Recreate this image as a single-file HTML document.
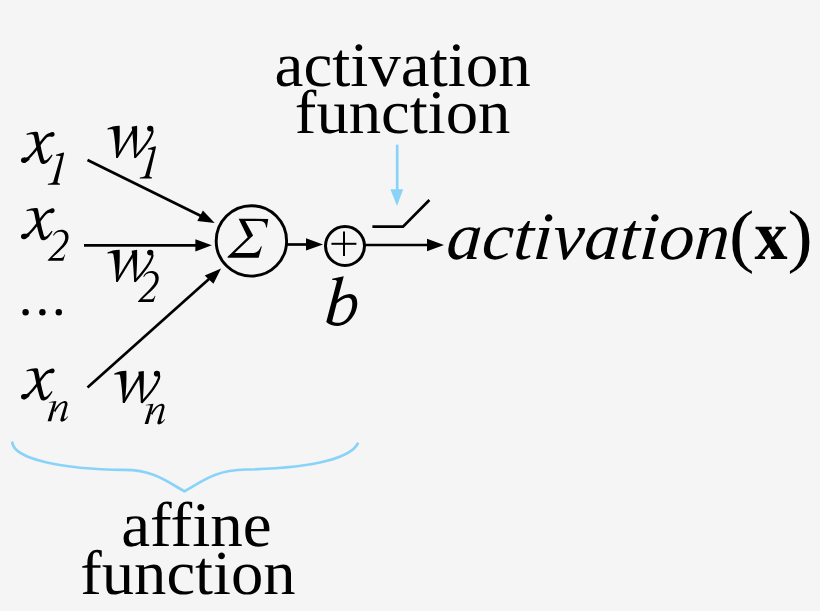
<!DOCTYPE html>
<html>
<head>
<meta charset="utf-8">
<style>
html,body{margin:0;padding:0;background:#f5f5f5;width:820px;height:611px;overflow:hidden}
svg{display:block}
text{font-family:"Liberation Serif",serif;font-variant-ligatures:none;text-rendering:geometricPrecision}
svg g.t{opacity:0.999}
</style>
</head>
<body>
<svg width="820" height="611" viewBox="0 0 820 611">
<rect width="820" height="611" fill="#f5f5f5"/>
<g fill="#000">
<circle cx="25.6" cy="312.2" r="3.2"/>
<circle cx="42.4" cy="312.2" r="3.2"/>
<circle cx="58.8" cy="312.2" r="3.2"/>
</g>
<g stroke="#000" fill="none" stroke-width="2.7">
<line x1="87.5" y1="160" x2="201" y2="216"/>
<line x1="84" y1="245.3" x2="197" y2="245.3"/>
<line x1="87.5" y1="387.5" x2="209" y2="279"/>
<circle cx="251.4" cy="240.9" r="35.2" stroke-width="2.9"/>
<line x1="287" y1="244.5" x2="308" y2="244.5"/>
<circle cx="345" cy="246" r="19.5" stroke-width="3"/>
<line x1="331.4" y1="243.8" x2="356.4" y2="243.8" stroke-width="2"/>
<line x1="344" y1="231.4" x2="344" y2="256" stroke-width="2"/>
<line x1="365" y1="245" x2="429" y2="245"/>
<polyline points="372.4,226.6 403,226.6 429.4,200"/>
</g>
<g fill="#000">
<polygon points="214.7,222.9 197.3,221 202.9,210.5"/>
<polygon points="211.8,245.3 195.4,239.2 195.4,251.4"/>
<polygon points="221.1,268.4 204.7,275.4 213.4,283.8"/>
<polygon points="323,244.5 306,238.3 306,250.5"/>
<polygon points="444,245 427,238.8 427,251.2"/>
</g>
<g stroke="#8ad3f8" fill="none" stroke-width="2.7">
<line x1="397.2" y1="144.7" x2="397.2" y2="190"/>
<path d="M12.3,442.7 C14.43,458.51 59.64,469.2 124.4,469.9 C153.56,469.76 167.99,482.25 184.4,491.3 C200.8,482.25 215.2,469.76 245.6,469.5 C319.82,468.15 351.18,456.32 357.7,443.6" stroke-linecap="round"/>
</g>
<polygon points="390.4,189.2 403.2,189.2 397,206" fill="#8ad3f8"/>

<g class="t" fill="#000">
<text transform="matrix(0.64997 0 0.00000 0.63125 274.53 86.17)" font-size="100">activation</text>
<text transform="matrix(0.64700 0 0.00000 0.61958 294.86 133.18)" font-size="100">function</text>
<text transform="matrix(0.65033 0 0.00000 0.63357 121.22 545.87)" font-size="100">affine</text>
<text transform="matrix(0.64639 0 0.00000 0.62657 80.26 594.37)" font-size="100">function</text>
<text transform="matrix(0.70801 0 -0.04720 0.67500 445.57 259.43)" font-size="100" style="font-style:italic">activation</text>
<text transform="matrix(0.76078 0 0.00000 0.70387 729.08 259.24)" font-size="100">(</text>
<text transform="matrix(0.66122 0 0.00000 0.70217 754.47 259.30)" font-size="100" style="font-weight:bold">x</text>
<text transform="matrix(0.75728 0 0.00000 0.70387 787.54 259.24)" font-size="100">)</text>
</g>
<g fill="#000">
<g transform="translate(18,128) scale(0.065466)">
<path d="M130,86 C180,72 230,58 268,58 C290,58 300,62 305,70 C320,150 350,300 380,420 C392,470 400,495 410,497 C440,490 485,445 515,403 L528,415 C500,462 460,530 410,546 C385,553 363,550 350,535 C333,510 318,440 298,370 C283,310 266,230 253,160 C246,125 240,102 223,98 C195,93 160,99 134,106 Z"/>
<path d="M100,495 C170,465 220,400 280,320 C340,240 400,140 460,105 C480,95 495,92 510,92" fill="none" stroke="#000" stroke-width="36"/>
<ellipse cx="90" cy="493" rx="44" ry="42"/>
<path d="M90,451 C120,452 145,452 168,447 L178,482 C150,505 120,530 90,535 Z"/>
<path d="M440,128 C470,82 500,58 530,60 C555,62 563,85 558,108 C552,134 525,140 500,132 C480,126 462,130 445,140 Z"/>
</g>
<g transform="translate(18,204.3) scale(0.065466)">
<path d="M130,86 C180,72 230,58 268,58 C290,58 300,62 305,70 C320,150 350,300 380,420 C392,470 400,495 410,497 C440,490 485,445 515,403 L528,415 C500,462 460,530 410,546 C385,553 363,550 350,535 C333,510 318,440 298,370 C283,310 266,230 253,160 C246,125 240,102 223,98 C195,93 160,99 134,106 Z"/>
<path d="M100,495 C170,465 220,400 280,320 C340,240 400,140 460,105 C480,95 495,92 510,92" fill="none" stroke="#000" stroke-width="36"/>
<ellipse cx="90" cy="493" rx="44" ry="42"/>
<path d="M90,451 C120,452 145,452 168,447 L178,482 C150,505 120,530 90,535 Z"/>
<path d="M440,128 C470,82 500,58 530,60 C555,62 563,85 558,108 C552,134 525,140 500,132 C480,126 462,130 445,140 Z"/>
</g>
<g transform="translate(18,364.5) scale(0.065466)">
<path d="M130,86 C180,72 230,58 268,58 C290,58 300,62 305,70 C320,150 350,300 380,420 C392,470 400,495 410,497 C440,490 485,445 515,403 L528,415 C500,462 460,530 410,546 C385,553 363,550 350,535 C333,510 318,440 298,370 C283,310 266,230 253,160 C246,125 240,102 223,98 C195,93 160,99 134,106 Z"/>
<path d="M100,495 C170,465 220,400 280,320 C340,240 400,140 460,105 C480,95 495,92 510,92" fill="none" stroke="#000" stroke-width="36"/>
<ellipse cx="90" cy="493" rx="44" ry="42"/>
<path d="M90,451 C120,452 145,452 168,447 L178,482 C150,505 120,530 90,535 Z"/>
<path d="M440,128 C470,82 500,58 530,60 C555,62 563,85 558,108 C552,134 525,140 500,132 C480,126 462,130 445,140 Z"/>
</g>
<g transform="translate(104,122) scale(0.065854)">
<path d="M55,96 C100,76 160,58 238,56 C242,200 238,380 210,545 L184,545 C178,400 165,250 140,116 C115,108 85,110 55,116 Z"/>
<path d="M196,535 L474,80" fill="none" stroke="#000" stroke-width="35"/>
<path d="M420,72 L503,58 C505,250 497,400 485,545 L458,545 C452,400 442,250 420,72 Z"/>
<path d="M468,540 C580,420 690,290 728,178 C742,138 735,112 708,102" fill="none" stroke="#000" stroke-width="35"/>
<ellipse cx="702" cy="100" rx="47" ry="43"/>
</g>
<g transform="translate(104,246) scale(0.065854)">
<path d="M55,96 C100,76 160,58 238,56 C242,200 238,380 210,545 L184,545 C178,400 165,250 140,116 C115,108 85,110 55,116 Z"/>
<path d="M196,535 L474,80" fill="none" stroke="#000" stroke-width="35"/>
<path d="M420,72 L503,58 C505,250 497,400 485,545 L458,545 C452,400 442,250 420,72 Z"/>
<path d="M468,540 C580,420 690,290 728,178 C742,138 735,112 708,102" fill="none" stroke="#000" stroke-width="35"/>
<ellipse cx="702" cy="100" rx="47" ry="43"/>
</g>
<g transform="translate(110.7,367.1) scale(0.065854)">
<path d="M55,96 C100,76 160,58 238,56 C242,200 238,380 210,545 L184,545 C178,400 165,250 140,116 C115,108 85,110 55,116 Z"/>
<path d="M196,535 L474,80" fill="none" stroke="#000" stroke-width="35"/>
<path d="M420,72 L503,58 C505,250 497,400 485,545 L458,545 C452,400 442,250 420,72 Z"/>
<path d="M468,540 C580,420 690,290 728,178 C742,138 735,112 708,102" fill="none" stroke="#000" stroke-width="35"/>
<ellipse cx="702" cy="100" rx="47" ry="43"/>
</g>
<g transform="translate(44,148) scale(0.065402)"><path d="M183,104 L296,70 L308,76 L205,525 C212,538 228,543 245,545 L243,562 L58,562 L60,548 C95,545 122,538 140,525 L255,128 C240,118 212,116 190,122 Z"/></g>
<g transform="translate(135.9,141.7) scale(0.065402)"><path d="M183,104 L296,70 L308,76 L205,525 C212,538 228,543 245,545 L243,562 L58,562 L60,548 C95,545 122,538 140,525 L255,128 C240,118 212,116 190,122 Z"/></g>
<g transform="translate(46,228) scale(0.055679)"><path d="M128,132 C150,80 200,30 275,30 C350,30 405,75 405,160 C405,230 370,290 320,340 C250,410 170,480 110,538 L270,538 C300,535 318,515 335,475 L345,478 C332,515 322,550 310,588 L30,588 L35,575 C100,500 180,425 245,355 C305,290 345,235 345,180 C345,105 310,68 255,68 C205,68 165,95 140,138 Z"/></g>
<g transform="translate(136.2,269.3) scale(0.055679)"><path d="M128,132 C150,80 200,30 275,30 C350,30 405,75 405,160 C405,230 370,290 320,340 C250,410 170,480 110,538 L270,538 C300,535 318,515 335,475 L345,478 C332,515 322,550 310,588 L30,588 L35,575 C100,500 180,425 245,355 C305,290 345,235 345,180 C345,105 310,68 255,68 C205,68 165,95 140,138 Z"/></g>
<g transform="translate(46,398) scale(0.042553)"><path d="M66,98 C120,85 180,72 245,70 L122,548 L38,548 L175,112 C140,108 100,106 68,110 Z"/>
<path d="M185,300 C240,200 320,100 420,75 C480,65 515,100 505,160 L430,440 C420,480 425,495 440,490 C465,480 490,455 510,428 L520,436 C490,480 455,540 390,555 C350,560 330,540 340,500 L440,170 C450,135 440,120 418,120 C350,125 275,220 218,335 Z"/></g>
<g transform="translate(143.0,400.75) scale(0.042553)"><path d="M66,98 C120,85 180,72 245,70 L122,548 L38,548 L175,112 C140,108 100,106 68,110 Z"/>
<path d="M185,300 C240,200 320,100 420,75 C480,65 515,100 505,160 L430,440 C420,480 425,495 440,490 C465,480 490,455 510,428 L520,436 C490,480 455,540 390,555 C350,560 330,540 340,500 L440,170 C450,135 440,120 418,120 C350,125 275,220 218,335 Z"/></g>
<g transform="translate(224,215) scale(0.075245)"><path d="M195,50 L588,52 L570,165 L559,165 C556,120 540,82 478,80 L282,80 L387,272 L142,504 L395,504 C440,504 470,470 492,416 L503,418 L460,568 L48,568 L48,556 L315,295 Z"/></g>
<g transform="translate(320,272) scale(0.095057)"><path fill-rule="evenodd" d="M128,72 L250,46 L185,290 C225,255 270,232 315,232 C365,232 392,270 392,330 C392,440 300,568 185,568 C140,568 95,555 66,525 L178,100 C175,85 160,82 130,84 Z M176,330 C220,292 262,272 295,272 C325,272 340,295 340,335 C340,420 282,535 195,535 C165,535 142,528 128,518 Z"/></g>
</g>
</svg>
</body>
</html>
